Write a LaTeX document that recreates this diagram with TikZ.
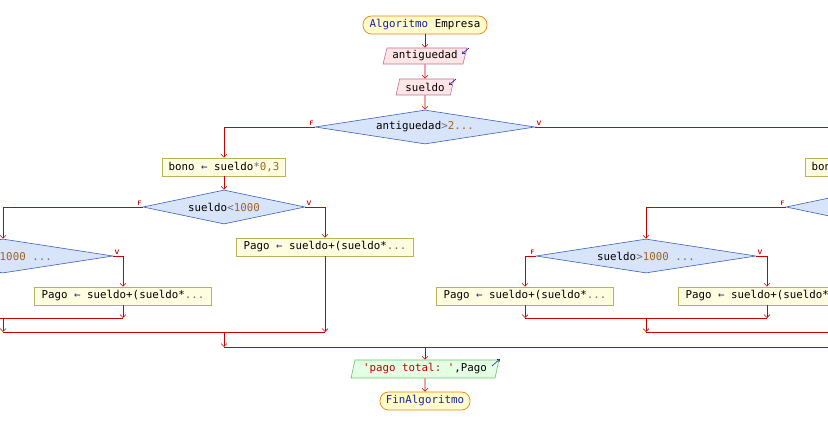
\documentclass[tikz,border=0pt]{standalone}
\usepackage{fontspec}
\setmonofont{DejaVu Sans Mono}
\usetikzlibrary{shapes.geometric,arrows.meta}
\definecolor{ln}{HTML}{C80000}
\definecolor{kw}{HTML}{1E1EA0}
\definecolor{num}{HTML}{A0641E}
\definecolor{op}{HTML}{707070}
\definecolor{str}{HTML}{C00000}
\definecolor{dfill}{HTML}{D8E4FA}
\definecolor{ddraw}{HTML}{3C5FC0}
\newcommand{\K}[1]{\textcolor{kw}{#1}}
\newcommand{\N}[1]{\textcolor{num}{#1}}
\newcommand{\Op}[1]{\textcolor{op}{#1}}
\newcommand{\Ar}{\textcolor{kw}{←}}
\begin{document}
\begin{tikzpicture}[x=1pt,y=-1pt,
  every node/.style={font=\fontsize{10.8}{12}\ttfamily,inner sep=0pt},
  term/.style={draw=orange!70!brown,fill=orange!12!yellow!20,rounded corners=8.5pt,minimum height=18pt,line width=0.7pt},
  inp/.style={trapezium,trapezium left angle=72,trapezium right angle=108,draw=magenta!60!black!70,fill=pink!40,minimum height=16pt,line width=0.6pt,trapezium stretches=true},
  outp/.style={trapezium,trapezium left angle=72,trapezium right angle=108,draw=green!60!black!60,fill=green!10,minimum height=18pt,line width=0.6pt,trapezium stretches=true},
  proc/.style={draw=yellow!60!black!80,fill=yellow!12,minimum height=18pt,line width=0.7pt},
  dec/.style={diamond,draw=ddraw,fill=dfill,minimum width=#1,minimum height=34pt,aspect=6,line width=0.6pt},
  cn/.style={draw=ln,line width=0.6pt},
  ar/.style={cn,-{Straight Barb[length=3pt,width=6pt]}},
  lab/.style={font=\fontsize{6.5}{7}\sffamily\bfseries,text=ln,inner sep=1pt},
  icon/.style={draw=kw,line width=0.6pt,-{Straight Barb[length=2pt,width=3pt]}}
]
\useasboundingbox (0,0) rectangle (828,435);
\clip (0,0) rectangle (828,435);
% nodes
\node[term,minimum width=124pt] (start) at (425,25) {\K{Algoritmo} Empresa};
\node[inp,minimum width=84pt] (in1) at (425,56) {antiguedad};
\node[inp,minimum width=58pt] (in2) at (425,87) {sueldo};
\node[dec=220pt] (d0) at (425,127) {antiguedad\Op{>}\N{2...}};
\node[proc,minimum width=123pt] (bL) at (224,167) {bono \Ar{} sueldo\Op{*}\N{0,3}};
\node[dec=162pt] (dL) at (224,207) {sueldo\Op{<}\N{1000}};
\node[proc,minimum width=177pt] (pL1) at (325,247) {Pago \Ar{} sueldo+(sueldo*\Op{...}};
\node[dec=220pt] (dLL) at (3,256) {sueldo\Op{>}\N{1000} \Op{...}};
\node[proc,minimum width=177pt] (pLL) at (123,296) {Pago \Ar{} sueldo+(sueldo*\Op{...}};
\node[proc,minimum width=123pt] (bR) at (867,167) {bono \Ar{} sueldo\Op{*}\N{0,3}};
\node[dec=162pt] (dR) at (867,207) {sueldo\Op{<}\N{1000}};
\node[dec=220pt] (dRR) at (646,256) {sueldo\Op{>}\N{1000} \Op{...}};
\node[proc,minimum width=177pt] (pRF) at (525,296) {Pago \Ar{} sueldo+(sueldo*\Op{...}};
\node[proc,minimum width=177pt] (pRV) at (767,296) {Pago \Ar{} sueldo+(sueldo*\Op{...}};
\node[outp,minimum width=148pt] (out) at (425,369) {\textcolor{str}{'pago total: '},Pago};
\node[term,minimum width=90pt] (fin) at (425,401) {\K{FinAlgoritmo}};
% icons
\coordinate (i1a) at (469,48); \coordinate (i1b) at (462,54);
\coordinate (i2a) at (456,79); \coordinate (i2b) at (449,85);
\coordinate (i3a) at (492,366); \coordinate (i3b) at (500,359);
\draw[icon] (i1a) -- (i1b);
\draw[icon] (i2a) -- (i2b);
\draw[icon] (i3a) -- (i3b);
% coordinates
\coordinate (j1) at (-117,318); \coordinate (j1e) at (123,318); \coordinate (j1c) at (3,318);
\coordinate (j2) at (3,332); \coordinate (j2e) at (325,332); \coordinate (j2c) at (224,332);
\coordinate (j3) at (224,347); \coordinate (j3e) at (1030,347); \coordinate (j3c) at (425,347);
\coordinate (k1) at (525,318); \coordinate (k1e) at (767,318); \coordinate (k1c) at (646,318);
\coordinate (k2) at (646,332); \coordinate (k2e) at (968,332);
\coordinate (rE) at (1030,127);
% connectors
\draw[ar] (start) -- (in1);
\draw[ar] (in1) -- (in2);
\draw[ar] (in2) -- (d0);
\draw[ar] (d0.west) -| (bL.north);
\draw[ar] (d0.east) -| (rE);
\draw[ar] (bL) -- (dL);
\draw[ar] (dL.west) -| (dLL.north);
\draw[ar] (dL.east) -| (pL1.north);
\draw[ar] (dLL.east) -| (pLL.north);
\draw[ar] (pLL.south) -- (j1e);
\draw[cn] (j1) -- (j1e);
\draw[ar] (j1c) -- (j2);
\draw[cn] (j2) -- (j2e);
\draw[ar] (pL1.south) -- (j2e);
\draw[ar] (j2c) -- (j3);
\draw[cn] (j3) -- (j3e);
\draw[ar] (j3c) -- (out);
\draw[ar] (out) -- (fin);
\draw[ar] (bR) -- (dR);
\draw[ar] (dR.west) -| (dRR.north);
\draw[ar] (dRR.west) -| (pRF.north);
\draw[ar] (dRR.east) -| (pRV.north);
\draw[ar] (pRF.south) -- (k1);
\draw[ar] (pRV.south) -- (k1e);
\draw[cn] (k1) -- (k1e);
\draw[ar] (k1c) -- (k2);
\draw[cn] (k2) -- (k2e);
% labels
\node[lab,anchor=south east] at (d0.west) {F};
\node[lab,anchor=south west] at (d0.east) {V};
\node[lab,anchor=south east] at (dL.west) {F};
\node[lab,anchor=south west] at (dL.east) {V};
\node[lab,anchor=south west] at (dLL.east) {V};
\node[lab,anchor=south east] at (dR.west) {F};
\node[lab,anchor=south east] at (dRR.west) {F};
\node[lab,anchor=south west] at (dRR.east) {V};
\end{tikzpicture}
\end{document}
